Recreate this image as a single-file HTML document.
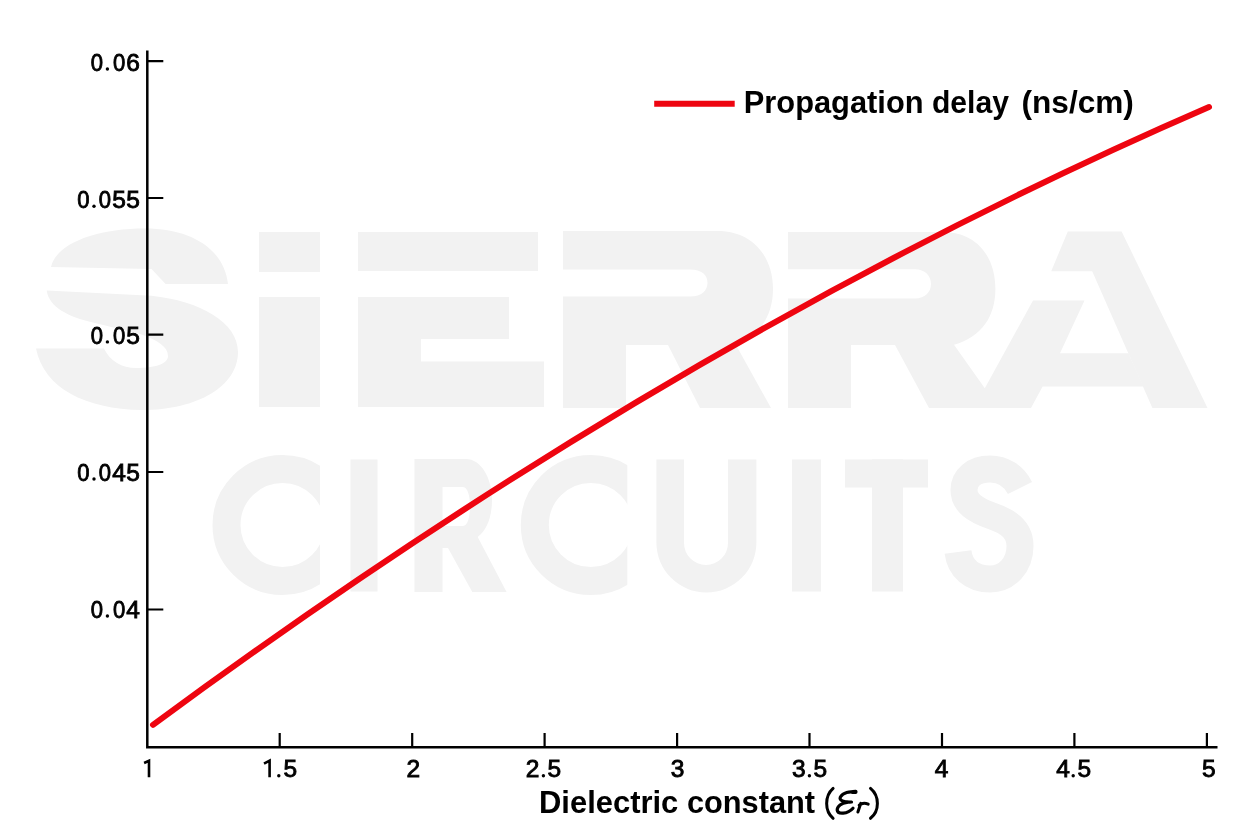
<!DOCTYPE html>
<html><head><meta charset="utf-8">
<style>
html,body{margin:0;padding:0;background:#fff;}
body{width:1249px;height:830px;overflow:hidden;position:relative;}
svg{position:absolute;left:0;top:0;will-change:transform;}
text{font-family:"Liberation Sans",sans-serif;fill:#000;}
</style></head>
<body>
<svg width="1249" height="830" viewBox="0 0 1249 830">
<defs>
  <clipPath id="c1"><rect x="200" y="440" width="120" height="170"/></clipPath>
  <clipPath id="c2"><rect x="505" y="440" width="122.3" height="170"/></clipPath>
</defs>
<!-- watermark -->
<g id="wm" fill="#f2f2f2">
  <!-- S -->
  <path d="M51,267 C56,244 95,228.5 145,228.5 C190,228.5 224,248 228,284 H165.6 L151.5,269 Z"/>
  <path d="M46.7,290.5 L151.5,295.7 C200,301 238,322 238,352 C238,386 198,410 142,410 C85,409 44,388 36,348.4 H104 C110,361 122,368 136,368 C155,368 168,364 168,356 C168,347 158,340 140,334 L95,323 C68,317 49,307 46.7,290.5 Z"/>
  <!-- I -->
  <rect x="259" y="232" width="61" height="40"/>
  <rect x="259" y="297" width="61" height="110"/>
  <!-- E -->
  <rect x="358" y="232" width="180" height="39"/>
  <path d="M358,297 H509 V339 H421 V361.5 H544 V407 H358 Z"/>
  <!-- R1 -->
  <path fill-rule="evenodd" d="M563,231 H718 C752,231 773,256 773,289 C773,315 760,336 736,345 L771,408 H700 L668,345 H626 V408 H563 V296.6 H690 C702,296.6 707.5,290 707.5,283 C707.5,275 702,269.6 690,269.6 H563 Z"/>
  <!-- R2 + A left leg -->
  <path d="M788,232 H943 C976,232 995.4,256 995.4,289 C995.4,316 982,337 954,344.8 L984.8,388.2 L1033,300.5 H1084.5 L1060,353.2 H1128.5 L1143.3,386.5 H1042.6 L1031,408 H929 L895,345 H851 V408 H788 V298.5 H915 C925,298.5 931,292 931,284 C931,276 925,269.3 915,269.3 H788 Z"/>
  <!-- A top + right leg -->
  <path d="M1067.8,231.5 H1121.6 L1207.5,408 H1152.4 L1092.2,271.2 H1051.2 Z"/>
  <!-- CIRCUITS -->
  <circle cx="282.5" cy="525" r="56" fill="none" stroke="#f2f2f2" stroke-width="28" clip-path="url(#c1)"/>
  <rect x="350.5" y="459.5" width="27" height="132"/>
  <path fill-rule="evenodd" d="M414.5,459 H466 C481,459 492,478 492,500 C492,518 486,531 477.7,537 L506.6,591.9 H472.3 L448,548 H442.5 V591.9 H414.5 Z M442.5,487 H463 C468,487 470,497 470,506 C470,516 468,526 463,526 H442.5 Z"/>
  <circle cx="590.8" cy="525" r="56" fill="none" stroke="#f2f2f2" stroke-width="28" clip-path="url(#c2)"/>
  <path d="M656.4,459.5 V542.5 A50,50 0 0 0 756.4,542.5 V459.5 H728 V543 A22,22 0 0 1 684,543 V459.5 Z"/>
  <rect x="792" y="459.5" width="29" height="132"/>
  <rect x="845" y="459.5" width="83" height="28"/>
  <rect x="872" y="459.5" width="31" height="132"/>
  <path d="M1020,488 C1014,476 1003,469 990,469 C974,469 964,478 964,490 C964,503 975,510 992,516 C1010,522 1020,531 1020,546 C1020,565 1007,579 990,579 C972,579 960,568 958,552" fill="none" stroke="#f2f2f2" stroke-width="27"/>
</g>
<!-- axes -->
<g stroke="#000" stroke-width="2.5" fill="none">
  <path d="M147.3,50.5 V747.2 H1217.5"/>
</g>
<g stroke="#000" stroke-width="2.2" fill="none">
  <path d="M147.3,61.2 H163.3 M147.3,198 H163.3 M147.3,334.7 H163.3 M147.3,472 H163.3 M147.3,609.5 H163.3"/>
  <path d="M279.7,747 V733 M412.2,747 V733 M544.6,747 V733 M677.1,747 V733 M809.5,747 V733 M942,747 V733 M1074.4,747 V733 M1206.9,747 V733"/>
</g>
<!-- y labels -->
<g font-size="24.5" text-anchor="middle" stroke="#000" stroke-width="0.9">
  <text transform="translate(96.9,70.7) scale(0.9,1)">0</text>
  <text transform="translate(119.1,70.7) scale(0.9,1)">0</text>
  <text x="133.1" y="70.7">6</text>
  <text transform="translate(83.5,207.9) scale(0.9,1)">0</text>
  <text transform="translate(104.9,207.9) scale(0.9,1)">0</text>
  <text x="119.1" y="207.9">5</text>
  <text x="133.1" y="207.9">5</text>
  <text transform="translate(96.9,343.6) scale(0.9,1)">0</text>
  <text transform="translate(119.1,343.6) scale(0.9,1)">0</text>
  <text x="133.1" y="343.6">5</text>
  <text transform="translate(83.5,480.7) scale(0.9,1)">0</text>
  <text transform="translate(104.9,480.7) scale(0.9,1)">0</text>
  <text x="119.1" y="480.7">4</text>
  <text x="133.1" y="480.7">5</text>
  <text transform="translate(96.9,617.7) scale(0.9,1)">0</text>
  <text transform="translate(119.1,617.7) scale(0.9,1)">0</text>
  <text x="133.1" y="617.7">4</text>
  <circle cx="107.4" cy="69.0" r="1.7" stroke="none"/>
  <circle cx="94.0" cy="206.2" r="1.7" stroke="none"/>
  <circle cx="107.4" cy="341.9" r="1.7" stroke="none"/>
  <circle cx="94.0" cy="479.0" r="1.7" stroke="none"/>
  <circle cx="107.4" cy="616.0" r="1.7" stroke="none"/>
</g>
<g font-size="24.5" text-anchor="middle" stroke="#000" stroke-width="0.9">
  <path d="M144.1,763 L149,760.8 V777.3 M264,763.6 L269.6,760.6 V777.3" fill="none" stroke-width="2.6"/>
  <text x="290.35" y="777.3">5</text>
  <text x="413.4" y="777.3">2</text>
  <text x="532.6" y="777.3">2</text>
  <text x="554.4" y="777.3">5</text>
  <text x="677.45" y="777.3">3</text>
  <text x="798.8" y="777.3">3</text>
  <text x="820.4" y="777.3">5</text>
  <text x="941.6" y="777.3">4</text>
  <text x="1063" y="777.3">4</text>
  <text x="1084.2" y="777.3">5</text>
  <text x="1208.75" y="777.3">5</text>
  <circle cx="278.8" cy="775.7" r="1.7" stroke="none"/>
  <circle cx="543.4" cy="775.7" r="1.7" stroke="none"/>
  <circle cx="809.4" cy="775.7" r="1.7" stroke="none"/>
  <circle cx="1073.2" cy="775.7" r="1.7" stroke="none"/>
</g>
<!-- curve -->
<path d="M153,724.8 Q681,335.7 1209,107" stroke="#ee0510" stroke-width="6" fill="none" stroke-linecap="round"/>
<!-- legend -->
<path d="M654.2,103.8 H734.7" stroke="#ee0510" stroke-width="6" fill="none"/>
<g font-size="32" font-weight="bold">
  <text transform="translate(743.8,113.2) scale(0.963,1)">Propagation</text>
  <text transform="translate(931.9,113.2) scale(0.942,1)">delay</text>
  <text transform="translate(1021.5,113.2) scale(0.988,1)">(ns/cm)</text>
</g>
<!-- x label -->
<g font-size="32" font-weight="bold">
  <text transform="translate(539,812.7) scale(0.967,1)">Dielectric</text>
  <text transform="translate(686.9,812.7) scale(0.962,1)">constant</text>
</g>
<g fill="none" stroke="#000" stroke-width="3" stroke-linecap="round">
  <path d="M833.1,788.4 C824.5,796 824.5,811 833.1,818.3"/>
  <path d="M870.5,788.4 C879.7,796 879.7,811 870.5,818.3"/>
  <path d="M855.3,792.4 C849.5,790.8 843,792.6 840.4,797 C838.6,800.6 844,802.3 851.5,802" stroke-width="3.2"/>
  <path d="M855.6,791.8 L853,792" stroke-width="4"/>
  <path d="M847,802.4 C841.5,803 837.2,806.5 837.2,810 C837.6,814.6 847.5,814.4 853,808.2" stroke-width="3.2"/>
  <path d="M857.9,812 L860.8,803.3 M859.2,805.2 C861.5,803.3 865,802.8 868.2,804.2"/>
</g>
</svg>
</body></html>
